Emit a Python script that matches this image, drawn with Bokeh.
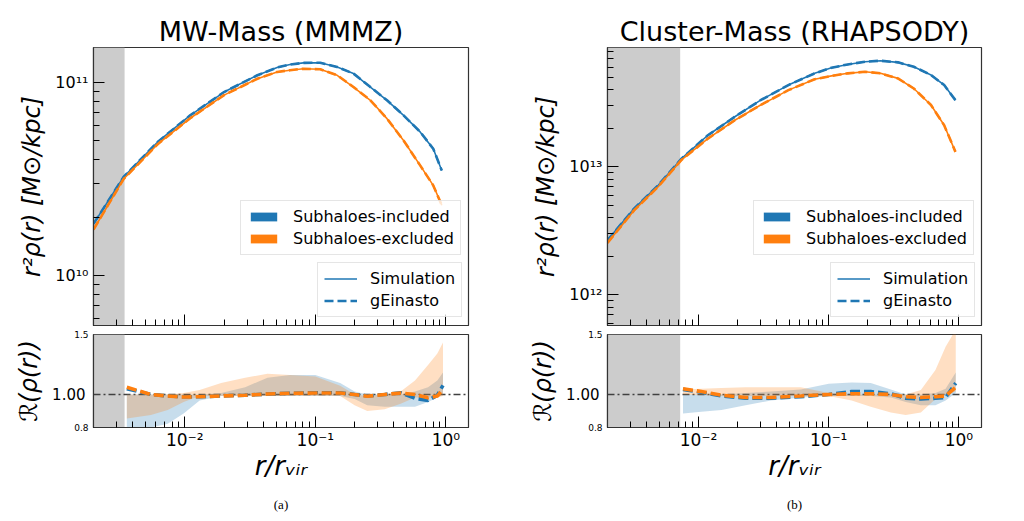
import numpy as np
from bokeh.embed import file_html
from bokeh.layouts import column, row
from bokeh.models import BoxAnnotation, FixedTicker, Legend, LegendItem, LogAxis, Span
from bokeh.plotting import figure
from bokeh.resources import INLINE

BLUE = "#1f77b4"
ORANGE = "#ff7f0e"
FONT = "DejaVu Sans"
FRAME = "#333333"

# ---------------- shared axes ----------------
X_START, X_END = 0.002, 1.49
X_TICKS = [0.01, 0.1, 1.0]
X_TICK_LABELS = ["10⁻²", "10⁻¹", "10⁰"]

RES_START, RES_END = 0.8, 1.5
RES_MID = 1.0
RES_MID_LABEL = "1.00"
RES_EDGE_TICKS = [0.8, 1.5]
RES_EDGE_LABELS = ["0.8", "1.5"]

# ---------------- MW-mass haloes (MMMZ) ----------------
mw_title = "MW-Mass (MMMZ)"
mw_caption = "(a)"
mw_cut = 0.00346
mw_y_range = (5.5e9, 1.52e11)
mw_y_ticks = [1e10, 1e11]
mw_y_tick_labels = ["10¹⁰", "10¹¹"]

mw_r = [0.002, 0.0034, 0.0062, 0.011, 0.020, 0.036, 0.051, 0.064, 0.081, 0.109,
        0.147, 0.196, 0.264, 0.354, 0.474, 0.635, 0.80, 0.93]
mw_incl = [1.85e10, 3.24e10, 4.92e10, 6.76e10, 8.93e10, 1.091e11, 1.197e11, 1.24e11, 1.265e11,
           1.268e11, 1.205e11, 1.114e11, 9.48e10, 8.09e10, 6.76e10, 5.55e10, 4.54e10, 3.50e10]
mw_excl = [1.73e10, 3.16e10, 4.79e10, 6.53e10, 8.61e10, 1.047e11, 1.135e11, 1.159e11, 1.180e11,
           1.172e11, 1.091e11, 9.48e10, 8.09e10, 6.50e10, 5.01e10, 3.72e10, 2.93e10, 2.31e10]

mw_res_r = [0.0036, 0.0055, 0.0074, 0.0098, 0.013, 0.019, 0.029, 0.043, 0.064, 0.10,
            0.155, 0.20, 0.25, 0.34, 0.45, 0.58, 0.73, 0.86, 0.95]
mw_incl_ratio = [1.04, 1.0, 0.99, 0.985, 0.985, 0.99, 0.995, 1.003, 1.008, 1.012,
                 1.012, 1.0, 0.99, 1.0, 1.012, 0.975, 0.96, 0.995, 1.064]
mw_excl_ratio = [1.05, 1.0, 0.99, 0.983, 0.985, 0.99, 0.995, 1.003, 1.008, 1.01,
                 1.01, 1.0, 0.988, 1.0, 1.01, 1.0, 0.978, 0.99, 1.035]
mw_incl_lo = [0.78, 0.80, 0.82, 0.88, 0.96, 0.99, 0.99, 0.99, 0.99, 0.99,
              0.99, 0.97, 0.93, 0.92, 0.92, 0.92, 0.95, 0.98, 1.00]
mw_incl_hi = [1.00, 1.00, 1.00, 1.00, 1.00, 1.01, 1.05, 1.12, 1.14, 1.14,
              1.08, 1.02, 1.00, 1.00, 1.00, 1.02, 1.05, 1.10, 1.16]
mw_excl_lo = [0.85, 0.87, 0.90, 0.95, 0.99, 0.99, 0.99, 0.99, 0.99, 0.99,
              0.99, 0.93, 0.895, 0.905, 0.94, 0.98, 0.98, 0.98, 0.99]
mw_excl_hi = [1.00, 1.00, 1.00, 1.01, 1.03, 1.08, 1.12, 1.15, 1.14, 1.13,
              1.06, 1.00, 0.99, 1.00, 1.02, 1.10, 1.22, 1.32, 1.42]

# ---------------- cluster-mass haloes (RHAPSODY) ----------------
cl_title = "Cluster-Mass (RHAPSODY)"
cl_caption = "(b)"
cl_cut = 0.00723
cl_y_range = (5.75e11, 8.6e13)
cl_y_ticks = [1e12, 1e13]
cl_y_tick_labels = ["10¹²", "10¹³"]

cl_r = [0.002, 0.0032, 0.0049, 0.0074, 0.0118, 0.019, 0.030, 0.049, 0.078, 0.105,
        0.14, 0.19, 0.25, 0.34, 0.45, 0.61, 0.77, 0.94]
cl_incl = [2.67e12, 4.72e12, 7.19e12, 1.161e13, 1.77e13, 2.47e13, 3.33e13, 4.37e13, 5.40e13,
           5.97e13, 6.34e13, 6.65e13, 6.78e13, 6.58e13, 6.08e13, 5.24e13, 4.37e13, 3.33e13]
cl_excl = [2.55e12, 4.57e12, 7.00e12, 1.135e13, 1.667e13, 2.32e13, 3.05e13, 3.99e13, 4.86e13,
           5.16e13, 5.40e13, 5.56e13, 5.40e13, 4.93e13, 4.11e13, 3.05e13, 2.12e13, 1.312e13]

cl_res_r = [0.0076, 0.0105, 0.015, 0.023, 0.036, 0.061, 0.10, 0.15, 0.21, 0.30,
            0.39, 0.51, 0.66, 0.79, 0.945]
cl_incl_ratio = [1.035, 1.015, 0.99, 0.975, 0.975, 0.985, 1.0, 1.02, 1.02, 1.005,
                 0.975, 0.97, 0.975, 0.98, 1.08]
cl_excl_ratio = [1.04, 1.02, 0.995, 0.98, 0.98, 0.99, 1.0, 1.005, 1.005, 1.0,
                 0.985, 0.98, 0.985, 0.99, 1.05]
cl_incl_lo = [0.88, 0.89, 0.90, 0.93, 0.96, 0.98, 0.99, 0.99, 0.99, 0.98,
              0.95, 0.93, 0.93, 0.96, 1.01]
cl_incl_hi = [1.0, 1.0, 1.0, 1.01, 1.02, 1.035, 1.075, 1.085, 1.08, 1.035,
              1.0, 1.0, 1.01, 1.04, 1.16]
cl_excl_lo = [1.0, 0.995, 0.99, 0.99, 0.99, 0.99, 0.99, 0.96, 0.92, 0.885,
              0.87, 0.885, 0.97, 1.0, 1.02]
cl_excl_hi = [1.035, 1.04, 1.045, 1.05, 1.05, 1.05, 1.01, 1.0, 1.0, 1.0,
              1.0, 1.03, 1.18, 1.38, 1.55]

Y_LABEL = "r²ρ(r) [M⊙/kpc]"
RES_LABEL = "ℛ(ρ(r))"
X_LABEL = "r/rᵥᵢᵣ"
SET_LABELS = ["Subhaloes-included", "Subhaloes-excluded"]
LINE_LABELS = ["Simulation", "gEinasto"]


def log_minor(lo, hi):
    """Minor tick positions at 2..9 x 10^k inside [lo, hi]."""
    out = []
    for k in range(int(np.floor(np.log10(lo))), int(np.ceil(np.log10(hi))) + 1):
        for m in range(2, 10):
            v = m * 10.0 ** k
            if lo <= v <= hi:
                out.append(v)
    return out


def style_ticks(ax, major, minor, labels, size):
    ax.ticker = FixedTicker(ticks=major, minor_ticks=minor)
    ax.major_label_overrides = dict(zip(major, labels))
    ax.major_tick_in = 11
    ax.major_tick_out = 0
    ax.minor_tick_in = 6
    ax.minor_tick_out = 0
    ax.major_tick_line_color = "black"
    ax.minor_tick_line_color = "black"
    ax.major_tick_line_width = 1
    ax.minor_tick_line_width = 1
    ax.axis_line_color = FRAME
    ax.axis_line_width = 1.2
    ax.major_label_text_font = FONT
    ax.major_label_text_font_size = size
    ax.major_label_text_color = "black"


def axis_title(ax, text, size, standoff, font=FONT, style="italic"):
    ax.axis_label = text
    ax.axis_label_text_font = font
    ax.axis_label_text_font_size = size
    ax.axis_label_text_font_style = style
    ax.axis_label_text_color = "black"
    ax.axis_label_standoff = standoff


def make_legend(items, loc):
    return Legend(
        items=items, location=loc, orientation="vertical",
        label_text_font=FONT, label_text_font_size="16px", label_text_color="black",
        glyph_width=33, glyph_height=11, label_standoff=13, label_height=18,
        padding=6, spacing=3, margin=0,
        background_fill_color="white", background_fill_alpha=0.8,
        border_line_color="#cccccc", border_line_width=1,
    )


def top_panel(title, r, incl, excl, y_range, y_ticks, y_labels, cut, left, right, leg1, leg2):
    p = figure(width=512, height=328, x_axis_type="log", y_axis_type="log",
               x_range=(X_START, X_END), y_range=y_range,
               min_border_left=left, min_border_right=right,
               min_border_top=47, min_border_bottom=3,
               toolbar_location=None, output_backend="svg")
    p.title.text = title
    p.title.align = "center"
    p.title.text_font = FONT
    p.title.text_font_size = "27px"
    p.title.text_font_style = "normal"
    p.title.text_color = "black"
    p.title.standoff = 2
    p.grid.visible = False
    p.outline_line_color = FRAME
    p.outline_line_width = 1.2
    p.outline_line_alpha = 1

    p.add_layout(BoxAnnotation(left=X_START, right=cut, bottom=y_range[0], top=y_range[1],
                               fill_color="#cccccc", fill_alpha=1, line_color=None,
                               level="underlay"))

    sim_b = p.line(r, incl, line_color=BLUE, line_width=1.6)
    fit_b = p.line(r, incl, line_color=BLUE, line_width=2.6, line_dash="9 4")
    p.line(r, excl, line_color=ORANGE, line_width=1.6)
    p.line(r, excl, line_color=ORANGE, line_width=2.6, line_dash="9 4")

    # zero-area colour keys for the two halo samples
    key_b = p.quad(left=r[:1], right=r[:1], top=incl[:1], bottom=incl[:1],
                   fill_color=BLUE, line_color=None)
    key_o = p.quad(left=r[:1], right=r[:1], top=excl[:1], bottom=excl[:1],
                   fill_color=ORANGE, line_color=None)

    xa = p.xaxis[0]
    style_ticks(xa, X_TICKS, log_minor(X_START, X_END), ["", "", ""], "0px")
    xa.major_label_standoff = 0
    ya = p.yaxis[0]
    style_ticks(ya, y_ticks, log_minor(*y_range), y_labels, "16px")
    ya.major_label_standoff = 5
    axis_title(ya, Y_LABEL, "24px", 6)

    p.add_layout(make_legend([LegendItem(label=SET_LABELS[0], renderers=[key_b]),
                              LegendItem(label=SET_LABELS[1], renderers=[key_o])], leg1))
    p.add_layout(make_legend([LegendItem(label=LINE_LABELS[0], renderers=[sim_b]),
                              LegendItem(label=LINE_LABELS[1], renderers=[fit_b])], leg2))
    return p


def res_panel(caption, r, incl, excl, incl_lo, incl_hi, excl_lo, excl_hi, cut, left, right):
    p = figure(width=512, height=193, x_axis_type="log", y_axis_type="log",
               x_range=(X_START, X_END), y_range=(RES_START, RES_END),
               min_border_left=left, min_border_right=right,
               min_border_top=6, min_border_bottom=94,
               toolbar_location=None, output_backend="svg", title=None)
    p.grid.visible = False
    p.outline_line_color = FRAME
    p.outline_line_width = 1.2
    p.outline_line_alpha = 1

    p.add_layout(BoxAnnotation(left=X_START, right=cut, bottom=RES_START, top=RES_END,
                               fill_color="#cccccc", fill_alpha=1, line_color=None,
                               level="underlay"))
    p.add_layout(Span(location=RES_MID, dimension="width", line_color="#404040",
                      line_width=1.3, line_dash="7 3 2 3", level="underlay"))

    p.varea(x=r, y1=incl_lo, y2=incl_hi, fill_color=BLUE, fill_alpha=0.25)
    p.varea(x=r, y1=excl_lo, y2=excl_hi, fill_color=ORANGE, fill_alpha=0.25)
    p.line(r, incl, line_color=BLUE, line_width=3.6, line_dash="10 4")
    p.line(r, excl, line_color=ORANGE, line_width=3.6, line_dash="10 4")

    xa = p.xaxis[0]
    style_ticks(xa, X_TICKS, log_minor(X_START, X_END), X_TICK_LABELS, "17px")
    xa.major_label_standoff = 2
    axis_title(xa, X_LABEL, "26px", -2)

    # panel caption, set as the label of a bare axis under the x axis
    cap = LogAxis()
    style_ticks(cap, [], [], [], "0px")
    cap.major_tick_in = 0
    cap.minor_tick_in = 0
    cap.axis_line_color = None
    cap.major_label_standoff = 0
    axis_title(cap, caption, "13px", 13, font="Liberation Serif", style="normal")
    p.add_layout(cap, "below")

    # inner axis: small labels at both ends of the ratio range
    ya = p.yaxis[0]
    style_ticks(ya, RES_EDGE_TICKS, [], RES_EDGE_LABELS, "9px")
    ya.major_tick_in = 0
    ya.minor_tick_in = 0
    ya.major_label_standoff = 5

    # outer axis: the unity label, pulled back against the frame, plus the axis title
    ya2 = LogAxis()
    style_ticks(ya2, [RES_MID], [], [RES_MID_LABEL], "15px")
    ya2.major_tick_in = 0
    ya2.minor_tick_in = 0
    ya2.axis_line_color = None
    ya2.major_label_standoff = -14
    axis_title(ya2, RES_LABEL, "24px", 6)
    p.add_layout(ya2, "left")
    return p


top_a = top_panel(mw_title, mw_r, mw_incl, mw_excl, mw_y_range, mw_y_ticks, mw_y_tick_labels,
                  mw_cut, 93, 44, (147, 70), (224, 8))
bot_a = res_panel(mw_caption, mw_res_r, mw_incl_ratio, mw_excl_ratio,
                  mw_incl_lo, mw_incl_hi, mw_excl_lo, mw_excl_hi, mw_cut, 93, 44)
top_b = top_panel(cl_title, cl_r, cl_incl, cl_excl, cl_y_range, cl_y_ticks, cl_y_tick_labels,
                  cl_cut, 95, 43, (146, 70), (223, 8))
bot_b = res_panel(cl_caption, cl_res_r, cl_incl_ratio, cl_excl_ratio,
                  cl_incl_lo, cl_incl_hi, cl_excl_lo, cl_excl_hi, cl_cut, 95, 43)

layout = row(column(top_a, bot_a, spacing=0), column(top_b, bot_b, spacing=0), spacing=0)

with open("out.html", "w", encoding="utf-8") as fh:
    fh.write(file_html(layout, INLINE))
